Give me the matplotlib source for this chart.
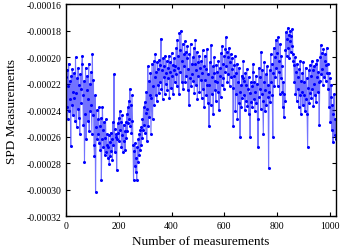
import numpy as np
import matplotlib
matplotlib.use('Agg')
import matplotlib.pyplot as plt
from matplotlib.ticker import FuncFormatter

# SPD readings, every 2nd measurement, in units of 1e-6
spd_values = [
    -215, -238, -210, -247, -222, -205, -241, -218, -232, -267, -214, -236, -209, -244, -226, -212,
    -231, -248, -200, -227, -253, -216, -239, -208, -246, -221, -258, -213, -235, -224, -205, -199,
    -229, -251, -218, -279, -243, -208, -262, -225, -214, -248, -232, -205, -256, -220, -241, -211,
    -236, -258, -198, -244, -217, -266, -275, -229, -302, -253, -240, -262, -247, -258, -238, -265,
    -252, -270, -246, -293, -262, -238, -255, -268, -249, -274, -261, -247, -272, -258, -266, -276,
    -268, -259, -281, -264, -275, -257, -271, -262, -278, -249, -266, -213, -254, -272, -260, -258,
    -285, -262, -250, -257, -246, -263, -241, -255, -249, -268, -244, -259, -272, -251, -263, -256,
    -270, -249, -261, -243, -256, -238, -250, -233, -247, -224, -252, -236, -257, -229, -248, -266,
    -293, -271, -282, -265, -287, -276, -293, -268, -279, -262, -274, -258, -270, -255, -266, -253,
    -261, -247, -255, -238, -251, -234, -257, -242, -226, -263, -239, -207, -252, -218, -245, -229,
    -212, -258, -231, -205, -247, -222, -203, -236, -215, -198, -229, -211, -233, -204, -221, -209,
    -227, -202, -219, -206, -186, -224, -210, -232, -201, -215, -207, -228, -199, -220, -212, -203,
    -225, -208, -216, -199, -231, -211, -204, -223, -197, -214, -206, -228, -210, -201, -219, -207,
    -213, -193, -222, -187, -208, -199, -228, -182, -211, -195, -180, -219, -203, -190, -224, -198,
    -207, -188, -219, -196, -214, -201, -192, -225, -209, -236, -198, -216, -190, -222, -205, -213,
    -200, -218, -193, -227, -205, -187, -221, -210, -196, -232, -204, -214, -199, -226, -208, -217,
    -203, -231, -212, -195, -224, -207, -238, -199, -217, -209, -229, -194, -221, -235, -213, -252,
    -221, -204, -236, -191, -215, -228, -207, -243, -212, -200, -225, -218, -233, -206, -219, -211,
    -226, -203, -240, -214, -208, -230, -197, -221, -192, -216, -205, -224, -199, -211, -194, -185,
    -207, -196, -219, -200, -213, -193, -222, -204, -198, -215, -209, -201, -223, -252, -214, -206,
    -199, -241, -212, -228, -205, -247, -219, -235, -208, -226, -260, -221, -238, -214, -231, -216,
    -203, -229, -218, -240, -212, -233, -221, -209, -237, -224, -215, -243, -227, -260, -219, -234,
    -222, -238, -211, -205, -232, -219, -241, -226, -214, -235, -220, -247, -268, -230, -208, -224,
    -215, -239, -196, -228, -210, -233, -258, -219, -204, -241, -225, -213, -236, -207, -230, -221,
    -284, -226, -210, -234, -198, -219, -205, -229, -260, -212, -193, -222, -200, -215, -187, -208,
    -197, -222, -185, -211, -203, -228, -190, -216, -199, -207, -226, -238, -219, -245, -228, -233,
    -195, -181, -199, -186, -178, -193, -183, -201, -188, -180, -196, -184, -192, -179, -198, -203,
    -206, -219, -200, -228, -211, -233, -205, -224, -215, -238, -209, -229, -203, -243, -218, -226,
    -212, -236, -204, -229, -219, -241, -208, -232, -216, -243, -268, -223, -210, -235, -206, -227,
    -214, -231, -203, -224, -210, -237, -207, -220, -229, -205, -234, -215, -202, -226, -211, -219,
    -251, -218, -200, -191, -213, -197, -209, -221, -194, -215, -203, -198, -218, -206, -193, -212,
    -205, -224, -212, -238, -216, -249, -230, -221, -255, -236, -264, -243, -228, -259, -247, -262,
]
measurement_step = 2

x_ticks = [0, 200, 400, 600, 800, 1000]
y_ticks = [-0.00032, -0.00030, -0.00028, -0.00026, -0.00024, -0.00022, -0.00020, -0.00018, -0.00016]

y = np.array(spd_values) * 1e-6
x = np.arange(len(y)) * measurement_step

plt.rcParams['font.family'] = ['Liberation Serif', 'DejaVu Serif']

fig = plt.figure(figsize=(3.42, 2.53), dpi=100)
ax = fig.add_axes([0.193, 0.142, 0.789, 0.838])

ax.plot(x, y, color='blue', linewidth=0.8, alpha=0.55)
ax.plot(x, y, linestyle='none', marker='o', markersize=1.2, color='blue')

ax.set_xlim(0, 1023)
ax.set_ylim(-0.00032, -0.00016)
ax.set_xticks(x_ticks)
ax.set_yticks(y_ticks)
ax.yaxis.set_major_formatter(FuncFormatter(lambda v, p: '%.5f' % v))
ax.tick_params(direction='in', top=True, right=True, labelsize=7, length=3, width=0.8)
for s in ax.spines.values():
    s.set_linewidth(1.0)

ax.set_xlabel('Number of measurements', fontsize=9.5, labelpad=4)
ax.set_ylabel('SPD Measurements', fontsize=9.5, labelpad=6)

fig.savefig('out.png', dpi=100)
